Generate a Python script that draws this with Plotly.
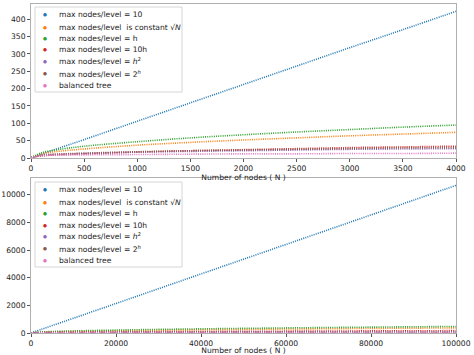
import plotly.graph_objects as go

# ---- data ----
n_small = [0, 100, 250, 500, 1000, 1500, 2000, 2500, 3000, 3500, 4000]
s_const10 = [1, 11, 27, 53, 106, 159, 212, 265, 318, 370, 423]
s_sqrt = [1, 12, 19, 26, 37, 45, 52, 58, 64, 69, 74]
s_h = [1, 15, 24, 34, 47, 58, 67, 75, 82, 89, 95]
s_10h = [1, 6, 9, 12, 17, 21, 24, 27, 30, 32, 34]
s_h2 = [1, 8, 11, 13, 17, 19, 21, 23, 25, 26, 27]
s_2h = [1, 8, 11, 14, 18, 21, 23, 25, 27, 29, 30]
s_bal = [1, 7, 8, 9, 10, 11, 12, 12, 13, 13, 14]

n_large = [0, 2500, 5000, 10000, 20000, 30000, 40000, 50000, 60000, 70000, 80000, 90000, 100000]
l_const10 = [0, 267, 534, 1067, 2134, 3201, 4268, 5335, 6402, 7469, 8536, 9603, 10670]
l_sqrt = [1, 59, 83, 117, 166, 203, 234, 262, 287, 309, 331, 351, 370]
l_h = [1, 75, 106, 150, 212, 260, 300, 335, 367, 397, 424, 450, 474]
l_10h = [1, 27, 38, 54, 76, 94, 108, 121, 132, 143, 153, 162, 171]
l_h2 = [1, 23, 29, 37, 46, 53, 58, 63, 67, 70, 73, 76, 79]
l_2h = [1, 27, 31, 36, 41, 44, 46, 48, 49, 50, 51, 52, 53]
l_bal = [1, 12, 13, 14, 15, 16, 16, 16, 17, 17, 17, 18, 18]

labels = [
    "max nodes/level = 10",
    "max nodes/level  is constant √<i>N</i>",
    "max nodes/level = h",
    "max nodes/level = 10h",
    "max nodes/level = <i>h</i><sup>2</sup>",
    "max nodes/level = 2<sup><i>h</i></sup>",
    "balanced tree",
]
colors = ["#1f77b4", "#ff7f0e", "#2ca02c", "#d62728", "#9467bd", "#8c564b", "#e377c2"]

top_series = [s_const10, s_sqrt, s_h, s_10h, s_h2, s_2h, s_bal]
bot_series = [l_const10, l_sqrt, l_h, l_10h, l_h2, l_2h, l_bal]

W, H = 474, 355
ML, MR, MT, MB = 31, 18, 4, 22
PW, PH = W - ML - MR, H - MT - MB
FS = 7.6

def px(xp):
    return (xp - ML) / PW

def py(yp):
    return (H - MB - yp) / PH

fig = go.Figure()

for xs, series, xa, ya in [(n_small, top_series, "x", "y"), (n_large, bot_series, "x2", "y2")]:
    for lab, col, ys in zip(labels, colors, series):
        fig.add_trace(go.Scatter(
            x=xs, y=ys, mode="lines", xaxis=xa, yaxis=ya, name=lab,
            line=dict(color=col, width=1.6, dash="1px,1.2px", shape="spline"),
            showlegend=False, hoverinfo="skip"))

# legends drawn as boxes with text rows (matplotlib-like compact spacing)
shapes = []
annotations = []
row_y = [14.3, 27.7, 38.7, 50.0, 61.3, 73.7, 85.3]
for off in (0, 175):
    shapes.append(dict(type="rect", xref="paper", yref="paper",
                       x0=px(35), x1=px(182), y0=py(7 + off), y1=py(92 + off),
                       line=dict(color="#d6d6d6", width=1),
                       fillcolor="rgba(255,255,255,0.85)", layer="above"))
    for lab, col, yy in zip(labels, colors, row_y):
        annotations.append(dict(xref="paper", yref="paper", x=px(45), y=py(yy + off),
                                text="●", showarrow=False, xanchor="center", yanchor="middle",
                                font=dict(size=4.5, color=col)))
        annotations.append(dict(xref="paper", yref="paper", x=px(57), y=py(yy + off),
                                text=lab, showarrow=False, xanchor="left", yanchor="middle",
                                font=dict(size=FS, color="#222")))

axis_common = dict(showline=True, mirror=True, linecolor="#b0b0b0", linewidth=1,
                   ticks="outside", ticklen=3, tickcolor="#555", showgrid=False,
                   zeroline=False, automargin=False, tickformat="d",
                   tickfont=dict(size=FS, color="#222"))
title_common = dict(text="Number of nodes ( N )", font=dict(size=FS, color="#222"), standoff=1)

fig.update_layout(
    width=W, height=H,
    margin=dict(l=ML, r=MR, t=MT, b=MB),
    paper_bgcolor="white", plot_bgcolor="white",
    font=dict(family="DejaVu Sans", size=FS, color="#222"),
    showlegend=False,
    xaxis=dict(domain=[0, 1], anchor="y", range=[0, 4000],
               tickvals=[0, 500, 1000, 1500, 2000, 2500, 3000, 3500, 4000],
               title=title_common, **axis_common),
    yaxis=dict(domain=[py(158), 1], anchor="x", range=[0, 444],
               tickvals=[0, 50, 100, 150, 200, 250, 300, 350, 400], **axis_common),
    xaxis2=dict(domain=[0, 1], anchor="y2", range=[0, 100000],
                tickvals=[0, 20000, 40000, 60000, 80000, 100000],
                title=title_common, **axis_common),
    yaxis2=dict(domain=[0, py(178)], anchor="x2", range=[0, 11205],
                tickvals=[0, 2000, 4000, 6000, 8000, 10000], **axis_common),
    shapes=shapes,
    annotations=annotations,
)

fig.write_html("out.html",
               config={"displayModeBar": False},
               post_script="document.body.style.margin='0';document.body.style.overflow='hidden';")
